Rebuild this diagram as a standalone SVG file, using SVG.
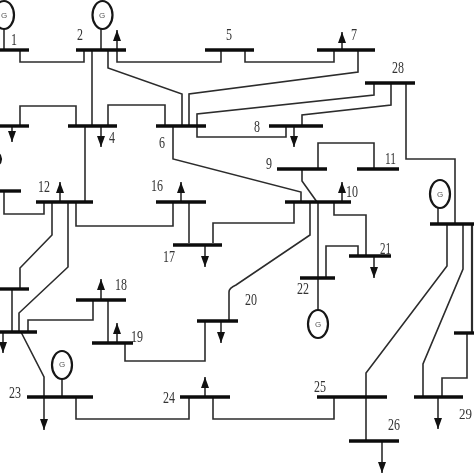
<svg xmlns="http://www.w3.org/2000/svg" width="474" height="474" viewBox="0 0 474 474">
<defs><marker id="a" markerWidth="12" markerHeight="8" refX="11" refY="4" orient="auto" markerUnits="userSpaceOnUse"><path d="M0 0L11 4L0 8Z" fill="#111"/></marker>
<filter id="f" filterUnits="userSpaceOnUse" x="0" y="0" width="474" height="474" color-interpolation-filters="sRGB"><feGaussianBlur stdDeviation="0.4"/></filter></defs>
<style>
.b{stroke:#0c0c0c;stroke-width:3.4;fill:none}
.l{stroke:#2c2c2c;stroke-width:1.6;fill:none}
.g{stroke:#161616;stroke-width:2.2;fill:#fff}
.t{font-family:"Liberation Serif",serif;font-size:17px;fill:#333}
.s{font-family:"Liberation Sans",sans-serif;font-size:8px;fill:#555;text-anchor:middle}
</style>
<rect width="474" height="474" fill="#fff"/>
<g filter="url(#f)">
<g id="connectors" class="l">
<path d="M20 50V62H84V50"/>
<path d="M92 50V126"/>
<path d="M108 50V68L182 94V126"/>
<path d="M117 50V62H221V50"/>
<path d="M245 50V62H334V50"/>
<path d="M358 50V72L189 94V126"/>
<path d="M374 83V95L197 114V137H286V126"/>
<path d="M391 83V105L302 115V126"/>
<path d="M406 83V159H455V224"/>
<path d="M20 126V106H76V126"/>
<path d="M108 126V105H165V126"/>
<path d="M85 126V202"/>
<path d="M173 126V159L301 192V202"/>
<path d="M4 191V214H44V202"/>
<path d="M76 202V226H173V202"/>
<path d="M189 202V243"/>
<path d="M213 243V223H294V202"/>
<path d="M302 169V181L317 202"/>
<path d="M318 169V143H374V169"/>
<path d="M310 202V235L236 285Q229 288 229 292V321"/>
<path d="M318 202V310"/>
<path d="M326 278V246H358V256"/>
<path d="M334 202V215H366V256"/>
<path d="M52 202V235L20 268V289"/>
<path d="M68 202V267L19 313V332"/>
<path d="M12 289V332"/>
<path d="M28 332V320H93V300"/>
<path d="M108 300V343"/>
<path d="M125 343V361H205V321"/>
<path d="M21 332L44 377V397"/>
<path d="M76 397V419H189V397"/>
<path d="M213 397V419H334V397"/>
<path d="M366 440V373L447 266V224"/>
<path d="M423 397V364L463 269V224"/>
<path d="M442 397V378H467V333"/>
<path d="M472 224V333" stroke-width="2.2"/>
</g>
<g id="bus1"><path class="l" d="M4 29V50"/><ellipse class="g" cx="4" cy="15" rx="10" ry="14"/><text class="s" x="4" y="18">G</text><path class="b" d="M-2 50H29"/><text class="t" x="11" y="45" textLength="6" lengthAdjust="spacingAndGlyphs">1</text></g>
<g id="bus2"><path class="l" d="M101 29V50"/><ellipse class="g" cx="102.500" cy="15" rx="10" ry="14"/><text class="s" x="102" y="18">G</text><path class="l" d="M117 50V30" marker-end="url(#a)"/><path class="b" d="M76 50H126"/><text class="t" x="77" y="40" textLength="6" lengthAdjust="spacingAndGlyphs">2</text></g>
<g id="bus3"><path class="l" d="M12 126V142" marker-end="url(#a)"/><path class="b" d="M-2 126H29"/></g>
<g id="bus4"><path class="l" d="M101 126V147" marker-end="url(#a)"/><path class="b" d="M68 126H117"/><text class="t" x="109" y="143" textLength="6" lengthAdjust="spacingAndGlyphs">4</text></g>
<g id="bus5"><path class="b" d="M205 50H254"/><text class="t" x="226" y="40" textLength="6" lengthAdjust="spacingAndGlyphs">5</text></g>
<g id="bus6"><path class="b" d="M156 126H206"/><text class="t" x="159" y="148" textLength="6" lengthAdjust="spacingAndGlyphs">6</text></g>
<g id="bus7"><path class="l" d="M342 50V32" marker-end="url(#a)"/><path class="b" d="M317 50H375"/><text class="t" x="351" y="40" textLength="6" lengthAdjust="spacingAndGlyphs">7</text></g>
<g id="bus8"><path class="l" d="M294 126V147" marker-end="url(#a)"/><path class="b" d="M269 126H323"/><text class="t" x="254" y="132" textLength="6" lengthAdjust="spacingAndGlyphs">8</text></g>
<g id="bus9"><path class="b" d="M277 169H327"/><text class="t" x="266" y="169" textLength="6" lengthAdjust="spacingAndGlyphs">9</text></g>
<g id="bus10"><path class="l" d="M342 202V182" marker-end="url(#a)"/><path class="b" d="M285 202H351"/><text class="t" x="346" y="197" textLength="12" lengthAdjust="spacingAndGlyphs">10</text></g>
<g id="bus11"><path class="b" d="M357 169H399"/><text class="t" x="385" y="164" textLength="11" lengthAdjust="spacingAndGlyphs">11</text></g>
<g id="bus12"><path class="l" d="M60 202V182" marker-end="url(#a)"/><path class="b" d="M36 202H93"/><text class="t" x="38" y="192" textLength="12" lengthAdjust="spacingAndGlyphs">12</text></g>
<g id="bus13"><ellipse class="g" cx="-8" cy="159" rx="9" ry="8" style="fill:none"/><path class="b" d="M-2 191H21"/></g>
<g id="bus14"><path class="l" d="M3 332V353" marker-end="url(#a)"/><path class="b" d="M-2 332H37"/></g>
<g id="bus15"><path class="b" d="M-2 289H29"/></g>
<g id="bus16"><path class="l" d="M181 202V182" marker-end="url(#a)"/><path class="b" d="M156 202H206"/><text class="t" x="151" y="191" textLength="12" lengthAdjust="spacingAndGlyphs">16</text></g>
<g id="bus17"><path class="l" d="M205 245V267" marker-end="url(#a)"/><path class="b" d="M173 245H222"/><text class="t" x="163" y="262" textLength="12" lengthAdjust="spacingAndGlyphs">17</text></g>
<g id="bus18"><path class="l" d="M101 300V279" marker-end="url(#a)"/><path class="b" d="M76 300H126"/><text class="t" x="115" y="290" textLength="12" lengthAdjust="spacingAndGlyphs">18</text></g>
<g id="bus19"><path class="l" d="M117 343V323" marker-end="url(#a)"/><path class="b" d="M92 343H133"/><text class="t" x="131" y="342" textLength="12" lengthAdjust="spacingAndGlyphs">19</text></g>
<g id="bus20"><path class="l" d="M221 321V343" marker-end="url(#a)"/><path class="b" d="M197 321H238"/><text class="t" x="245" y="305" textLength="12" lengthAdjust="spacingAndGlyphs">20</text></g>
<g id="bus21"><path class="l" d="M374 256V278" marker-end="url(#a)"/><path class="b" d="M349 256H391"/><text class="t" x="380" y="254" textLength="11" lengthAdjust="spacingAndGlyphs">21</text></g>
<g id="bus22"><ellipse class="g" cx="318" cy="324" rx="10" ry="14"/><text class="s" x="318" y="327">G</text><path class="b" d="M300 278H335"/><text class="t" x="297" y="294" textLength="12" lengthAdjust="spacingAndGlyphs">22</text></g>
<g id="bus23"><path class="l" d="M62 379V397"/><ellipse class="g" cx="62" cy="365" rx="10" ry="14"/><text class="s" x="62" y="367">G</text><path class="l" d="M44 397V430" marker-end="url(#a)"/><path class="b" d="M27 397H93"/><text class="t" x="9" y="398" textLength="12" lengthAdjust="spacingAndGlyphs">23</text></g>
<g id="bus24"><path class="l" d="M205 397V377" marker-end="url(#a)"/><path class="b" d="M180 397H230"/><text class="t" x="163" y="403" textLength="12" lengthAdjust="spacingAndGlyphs">24</text></g>
<g id="bus25"><path class="b" d="M317 397H387"/><text class="t" x="314" y="392" textLength="12" lengthAdjust="spacingAndGlyphs">25</text></g>
<g id="bus26"><path class="l" d="M382 441V473" marker-end="url(#a)"/><path class="b" d="M349 441H399"/><text class="t" x="388" y="430" textLength="12" lengthAdjust="spacingAndGlyphs">26</text></g>
<g id="bus27"><path class="l" d="M438 208V224"/><ellipse class="g" cx="440" cy="194" rx="10" ry="14"/><text class="s" x="440" y="197">G</text><path class="b" d="M430 224H474"/></g>
<g id="bus28"><path class="b" d="M365 83H415"/><text class="t" x="392" y="73" textLength="12" lengthAdjust="spacingAndGlyphs">28</text></g>
<g id="bus29"><path class="l" d="M438 397V429" marker-end="url(#a)"/><path class="b" d="M414 397H463"/><text class="t" x="459" y="419" style="font-size:14.500px" textLength="13" lengthAdjust="spacingAndGlyphs">29</text></g>
<g id="bus30"><path class="b" d="M454 333H474"/></g>
</g>
</svg>
